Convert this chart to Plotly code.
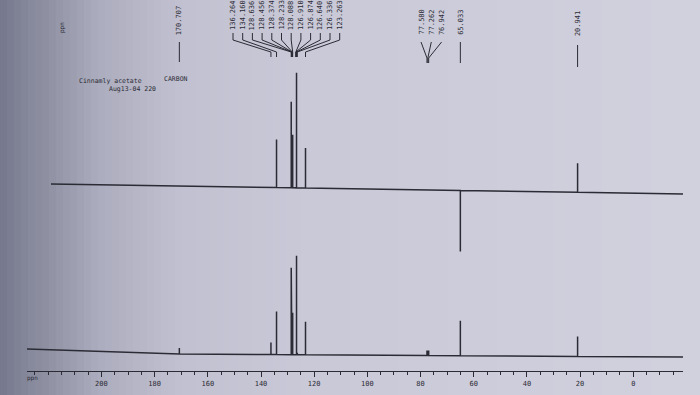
import numpy as np
import plotly.graph_objects as go

# ---------------- data ----------------
peak_ppm = [170.707, 136.264, 134.160, 128.636, 128.456, 128.374, 128.233, 128.088,
            126.910, 126.874, 126.640, 126.336, 123.263, 77.580, 77.262, 76.942,
            65.033, 20.941]
# lower trace: broadband 13C ("CARBON")
carbon_height = [6, 12, 43, 87, 2, 2, 2, 42, 2, 2, 99, 2, 33, 5, 5, 5, 35, 20]
# upper trace: DEPT-135 (CH/CH3 up, CH2 down)
dept_height = [0, 0, 48, 86, 0, 0, 0, 53, 0, 0, 115, 0, 40, 0, 0, 0, -61, 29]

cluster_labels = ["136.264", "134.160", "128.636", "128.456", "128.374", "128.233",
                  "128.088", "126.910", "126.874", "126.640", "126.336", "123.263"]
cluster_ppm = [136.264, 134.160, 128.636, 128.456, 128.374, 128.233,
               128.088, 126.910, 126.874, 126.640, 126.336, 123.263]
solvent_labels = ["77.580", "77.262", "76.942"]
solvent_ppm = [77.580, 77.262, 76.942]
single_labels = ["170.707", "65.033", "20.941"]
single_ppm = [170.707, 65.033, 20.941]

tick_vals = [200, 180, 160, 140, 120, 100, 80, 60, 40, 20, 0]
tick_text = [str(v) for v in tick_vals]

title_lines = ["Cinnamly acetate", "Aug13-04 220", "CARBON"]

# ---------------- geometry / style ----------------
W, H = 700, 395
ML, MR, MB = 27, 17, 24
X_LEFT, X_RIGHT = 228.0, -18.7
PLOT_H = H - MB
px_per_ppm = (W - ML - MR) / (X_LEFT - X_RIGHT)


def px_to_ppm(px):
    return X_LEFT - (px - ML) / px_per_ppm


def pix_to_val(py):
    return PLOT_H - py


INK = "#2b2b35"
FONT = "DejaVu Sans Mono"


def lower_base(p):
    return np.interp(p, [-18.7, 174, 228], [14, 17, 22])


def upper_base(p):
    return np.interp(p, [-19.6, 219], [177, 187])


def spectrum(ppms, heights, base_fn, x_start, x_end):
    xs = [x_start]
    ys = [float(base_fn(x_start))]
    for p, h in sorted(zip(ppms, heights), key=lambda t: -t[0]):
        if h == 0:
            continue
        b = float(base_fn(p))
        xs += [p, p, p]
        ys += [b, b + h, b]
    xs.append(x_end)
    ys.append(float(base_fn(x_end)))
    return xs, ys


fig = go.Figure()

# background (photo-like gradient), paper-referenced strips
stops_px = [0, 40, 100, 180, 300, 500, 700]
stops_r = [118, 140, 172, 194, 202, 206, 210]
stops_g = [121, 142, 173, 193, 201, 205, 209]
stops_b = [142, 160, 190, 209, 216, 219, 222]
shapes = []
for sx in range(0, W, 7):
    c = sx + 3.5
    r = int(np.interp(c, stops_px, stops_r))
    g = int(np.interp(c, stops_px, stops_g))
    b = int(np.interp(c, stops_px, stops_b))
    shapes.append(dict(type="rect", xref="paper", yref="paper",
                       x0=(sx - ML) / (W - ML - MR), x1=(sx + 8 - ML) / (W - ML - MR),
                       y0=-0.1, y1=1.05, line=dict(width=0),
                       fillcolor=f"rgb({r},{g},{b})", layer="below"))

# spectra
xs, ys = spectrum(peak_ppm, carbon_height, lower_base, 228.0, -18.7)
fig.add_trace(go.Scatter(x=xs, y=ys, mode="lines", line=dict(color=INK, width=1.5),
                         hoverinfo="skip", showlegend=False))
xs, ys = spectrum(peak_ppm, dept_height, upper_base, px_to_ppm(51), -18.7)
fig.add_trace(go.Scatter(x=xs, y=ys, mode="lines", line=dict(color=INK, width=1.5),
                         hoverinfo="skip", showlegend=False))

# leader lines
lx, ly = [], []
annotations = []
for i, (lab, p) in enumerate(zip(cluster_labels, cluster_ppm)):
    lp = px_to_ppm(233 + i * 9.7)
    lx += [lp, lp, p, p, None]
    ly += [pix_to_val(33), pix_to_val(40), pix_to_val(52), pix_to_val(57), None]
    annotations.append(dict(x=lp, y=pix_to_val(32), text=lab, textangle=-90,
                            xanchor="center", yanchor="bottom", showarrow=False,
                            font=dict(family=FONT, size=7, color=INK)))
for i, (lab, p) in enumerate(zip(solvent_labels, solvent_ppm)):
    lp = px_to_ppm(421 + i * 10.3)
    lx += [lp, p, p, None]
    ly += [pix_to_val(42), pix_to_val(58), pix_to_val(63), None]
    annotations.append(dict(x=lp, y=pix_to_val(37), text=lab, textangle=-90,
                            xanchor="center", yanchor="bottom", showarrow=False,
                            font=dict(family=FONT, size=7, color=INK)))
single_geom = [(37, 42, 62), (37, 42, 63), (38, 45, 67)]
for lab, p, (tb, l0, l1) in zip(single_labels, single_ppm, single_geom):
    lx += [p, p, None]
    ly += [pix_to_val(l0), pix_to_val(l1), None]
    annotations.append(dict(x=p, y=pix_to_val(tb), text=lab, textangle=-90,
                            xanchor="center", yanchor="bottom", showarrow=False,
                            font=dict(family=FONT, size=7, color=INK)))
fig.add_trace(go.Scatter(x=lx, y=ly, mode="lines", line=dict(color=INK, width=1),
                         hoverinfo="skip", showlegend=False))

# texts
annotations += [
    dict(x=px_to_ppm(77), y=pix_to_val(81), text=title_lines[0], xanchor="left",
         yanchor="middle", showarrow=False, font=dict(family=FONT, size=6.5, color=INK)),
    dict(x=px_to_ppm(107), y=pix_to_val(89), text=title_lines[1], xanchor="left",
         yanchor="middle", showarrow=False, font=dict(family=FONT, size=6.5, color=INK)),
    dict(x=px_to_ppm(162), y=pix_to_val(79), text=title_lines[2], xanchor="left",
         yanchor="middle", showarrow=False, font=dict(family=FONT, size=6.5, color=INK)),
    dict(x=px_to_ppm(62), y=pix_to_val(28), text="ppn", textangle=-90, xanchor="center",
         yanchor="middle", showarrow=False, font=dict(family=FONT, size=6, color=INK)),
    dict(xref="paper", yref="paper", x=(32 - ML) / (W - ML - MR), y=-(378 - PLOT_H) / PLOT_H,
         text="ppn", xanchor="center", yanchor="middle", showarrow=False,
         font=dict(family=FONT, size=6, color=INK)),
]

fig.update_layout(
    width=W, height=H,
    margin=dict(l=ML, r=MR, t=0, b=MB, pad=0),
    paper_bgcolor="rgb(200,199,214)",
    plot_bgcolor="rgba(0,0,0,0)",
    shapes=shapes,
    annotations=annotations,
    xaxis=dict(range=[X_LEFT, X_RIGHT], showgrid=False, zeroline=False,
               showline=True, linecolor=INK, linewidth=1.2,
               ticks="outside", ticklen=5, tickwidth=1, tickcolor=INK,
               tickvals=tick_vals, ticktext=tick_text,
               tickfont=dict(family=FONT, size=7, color=INK),
               minor=dict(ticks="outside", ticklen=3, tickwidth=1, tickcolor=INK,
                          dtick=5, tick0=0, showgrid=False)),
    yaxis=dict(range=[0, PLOT_H], visible=False, showgrid=False, zeroline=False),
    showlegend=False,
)

fig.write_html("out.html")
